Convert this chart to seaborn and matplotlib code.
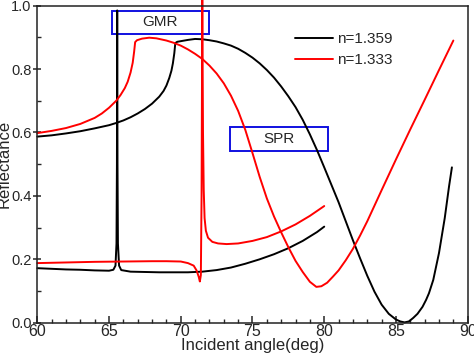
import pandas as pd
import seaborn as sns
import matplotlib.pyplot as plt
from matplotlib.patches import Rectangle
from matplotlib.ticker import MultipleLocator

sns.set_style('ticks')
plt.rcParams['font.family'] = ['Liberation Sans', 'DejaVu Sans']

# GMR 曲线 (n=1.359)
gmr_a_x = [60.0, 61.0, 62.0, 63.0, 64.0, 65.0, 65.3, 65.45, 65.52, 65.55, 65.57, 65.59, 65.62,
           65.7, 65.85, 66.5, 67.5, 68.5, 69.5, 70.5, 71.5, 72.5, 73.5, 74.5, 75.5, 76.5,
           77.5, 78.5, 79.5, 80.0]
gmr_a_y = [0.172, 0.170, 0.168, 0.167, 0.165, 0.164, 0.167, 0.18, 0.25, 0.5, 0.985, 0.5, 0.25,
           0.18, 0.166, 0.161, 0.160, 0.159, 0.159, 0.159, 0.161, 0.166, 0.174, 0.186, 0.200,
           0.216, 0.235, 0.258, 0.286, 0.303]

# GMR 曲线 (n=1.333)
gmr_b_x = [60.0, 62.0, 64.0, 66.0, 68.0, 69.0, 70.0, 70.5, 70.9, 71.1, 71.25, 71.33, 71.4,
           71.45, 71.5, 71.55, 71.6, 71.66, 71.75, 71.9, 72.2, 72.6, 73.2, 74.0, 75.0, 76.0,
           77.0, 78.0, 79.0, 80.0]
gmr_b_y = [0.188, 0.190, 0.192, 0.193, 0.194, 0.194, 0.193, 0.188, 0.180, 0.165, 0.145, 0.130,
           0.15, 0.4, 1.02, 0.6, 0.42, 0.33, 0.29, 0.268, 0.255, 0.250, 0.248, 0.250, 0.258,
           0.270, 0.288, 0.310, 0.337, 0.368]

# SPR 曲线 (n=1.359)
spr_a_x = [60.0, 61.0, 62.0, 63.0, 64.0, 65.0, 65.5, 66.0, 66.5, 67.0, 67.5, 68.0, 68.5, 68.8,
           69.0, 69.2, 69.35, 69.45, 69.55, 69.62, 69.75, 70.0, 70.5, 71.0, 71.5, 72.0, 72.5,
           73.0, 73.5, 74.0, 74.5, 75.0, 75.5, 76.0, 76.5, 77.0, 77.5, 78.0, 78.5, 79.0, 79.5,
           80.0, 80.5, 81.0, 81.5, 82.0, 82.5, 83.0, 83.5, 84.0, 84.5, 85.0, 85.3, 85.6, 85.9,
           86.2, 86.5, 86.85, 87.1, 87.3, 87.6, 88.0, 88.4, 88.7, 88.9]
spr_a_y = [0.587, 0.591, 0.597, 0.604, 0.613, 0.623, 0.630, 0.638, 0.648, 0.660, 0.674, 0.691,
           0.713, 0.731, 0.748, 0.772, 0.795, 0.818, 0.850, 0.882, 0.886, 0.888, 0.892, 0.895,
           0.894, 0.891, 0.887, 0.881, 0.874, 0.864, 0.851, 0.836, 0.818, 0.797, 0.773, 0.745,
           0.714, 0.680, 0.640, 0.594, 0.544, 0.49, 0.435, 0.38, 0.32, 0.26, 0.203, 0.148,
           0.098, 0.057, 0.028, 0.010, 0.004, 0.001, 0.004, 0.015, 0.028, 0.05, 0.072, 0.093,
           0.135, 0.22, 0.33, 0.43, 0.49]

# SPR 曲线 (n=1.333)
spr_b_x = [60.0, 61.0, 62.0, 63.0, 64.0, 64.5, 65.0, 65.5, 65.8, 66.1, 66.3, 66.5, 66.65, 66.75,
           66.82, 66.95, 67.3, 67.8, 68.3, 69.0, 69.5, 70.0, 70.5, 71.0, 71.5, 72.0, 72.5, 73.0,
           73.5, 74.0, 74.5, 75.0, 75.5, 76.0, 76.5, 77.0, 77.5, 78.0, 78.5, 79.0, 79.45, 79.8,
           80.2, 80.6, 81.0, 81.5, 82.0, 82.5, 83.0, 84.0, 85.0, 86.0, 87.0, 88.0, 89.0]
spr_b_y = [0.598, 0.605, 0.614, 0.627, 0.646, 0.660, 0.678, 0.700, 0.718, 0.740, 0.760, 0.789,
           0.82, 0.855, 0.885, 0.891, 0.896, 0.899, 0.897, 0.890, 0.883, 0.874, 0.862, 0.848,
           0.832, 0.811, 0.786, 0.755, 0.716, 0.668, 0.608, 0.535, 0.46, 0.392, 0.335, 0.285,
           0.238, 0.195, 0.16, 0.129, 0.113, 0.115, 0.126, 0.145, 0.165, 0.197, 0.233, 0.275,
           0.32, 0.418, 0.515, 0.61, 0.703, 0.797, 0.89]

labels = ['n=1.359', 'n=1.333']
colors = {'n=1.359': 'black', 'n=1.333': '#ff0000'}

frames = []
for x, y, n, mode in [(gmr_a_x, gmr_a_y, labels[0], 'GMR'), (spr_a_x, spr_a_y, labels[0], 'SPR'),
                      (gmr_b_x, gmr_b_y, labels[1], 'GMR'), (spr_b_x, spr_b_y, labels[1], 'SPR')]:
    frames.append(pd.DataFrame({'angle': x, 'R': y, 'n': n, 'mode': mode}))
df = pd.concat(frames, ignore_index=True)

fig = plt.figure(figsize=(4.74, 3.54), dpi=100)
ax = fig.add_axes([0.0787, 0.0884, 0.908, 0.8956])

sns.lineplot(data=df, x='angle', y='R', hue='n', units='mode', estimator=None, sort=False,
             palette=colors, linewidth=1.4, ax=ax)
for line in ax.lines:
    line.set_clip_on(False)

ax.set_xlim(60, 90)
ax.set_ylim(0, 1.0)
ax.xaxis.set_major_locator(MultipleLocator(5))
ax.xaxis.set_minor_locator(MultipleLocator(1))
ax.yaxis.set_major_locator(MultipleLocator(0.2))
ax.yaxis.set_minor_locator(MultipleLocator(0.1))
ax.xaxis.set_major_formatter(plt.FuncFormatter(lambda v, p: f'{v:.0f}'))
ax.yaxis.set_major_formatter(plt.FuncFormatter(lambda v, p: f'{v:.1f}'))
ax.tick_params(axis='x', which='major', direction='in', length=5, width=1.1, pad=1, labelsize=11.5)
ax.tick_params(axis='x', which='minor', direction='in', length=3, width=1.0)
ax.tick_params(axis='y', which='major', direction='inout', length=6, width=1.1, pad=1, labelsize=10.5)
ax.tick_params(axis='y', which='minor', direction='in', length=3, width=1.0)
for s in ax.spines.values():
    s.set_linewidth(1.1)
    s.set_color('#222222')

ax.set_xlabel('Incident angle(deg)', fontsize=12, labelpad=-1)
ax.set_ylabel('Reflectance', fontsize=12, labelpad=0)

# 标注框
ax.add_patch(Rectangle((65.18, 0.911), 6.78, 0.071, fill=False, edgecolor='#1010e0', linewidth=1.4))
ax.text(68.57, 0.947, 'GMR', ha='center', va='center', fontsize=11)
ax.add_patch(Rectangle((73.43, 0.543), 6.81, 0.074, fill=False, edgecolor='#1010e0', linewidth=1.4))
ax.text(76.84, 0.580, 'SPR', ha='center', va='center', fontsize=11)

ax.legend(title=None, frameon=False, loc='upper left', bbox_to_anchor=(0.598, 0.917),
          fontsize=11, handlelength=2.5, handletextpad=0.3, labelspacing=0.45,
          borderpad=0, borderaxespad=0)

fig.savefig('out.png', dpi=100)
